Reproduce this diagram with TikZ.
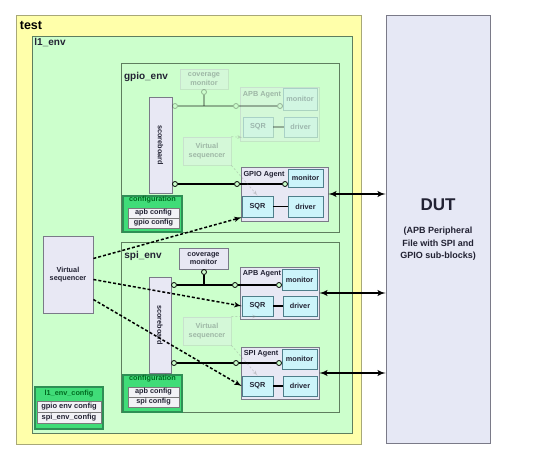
\documentclass[tikz,border=0pt]{standalone}
\usepackage{fontspec}
\setmainfont{Liberation Sans}
\usetikzlibrary{arrows,positioning}

\definecolor{testfill}{HTML}{FFFFAA}
\definecolor{testline}{HTML}{A8A878}
\definecolor{envfill}{HTML}{CCFFCC}
\definecolor{envline}{HTML}{5E7E5E}
\definecolor{boxfill}{HTML}{E8E8F4}
\definecolor{boxline}{HTML}{7A7A88}
\definecolor{unitfill}{HTML}{CCF4FA}
\definecolor{unitline}{HTML}{4E7E8A}
\definecolor{cfgfill}{HTML}{40DC78}
\definecolor{cfgline}{HTML}{2F8F55}
\definecolor{cfgtext}{HTML}{006A20}
\definecolor{itemfill}{HTML}{F2F2F6}
\definecolor{itemline}{HTML}{7A7A7A}
\definecolor{dutfill}{HTML}{E6E8F5}
\definecolor{ink}{HTML}{222233}

\begin{document}
\begin{tikzpicture}[>=latex',x=1pt,y=-1pt]
 \tikzstyle{frame}=[draw, rectangle, inner sep=0pt]
 \tikzstyle{small}=[font=\fontsize{7.3}{8.3}\selectfont\bfseries, text=ink]
 \tikzstyle{big}=[font=\fontsize{10}{12}\selectfont\bfseries, text=ink]
 \tikzstyle{envbox}=[frame, draw=envline, fill=envfill, thick]
 \tikzstyle{grey}=[frame, draw=boxline, fill=boxfill, thick, small, align=center]
 \tikzstyle{unit}=[frame, draw=unitline, fill=unitfill, thick, small]
 \tikzstyle{cfg}=[frame, draw=cfgline, fill=cfgfill, very thick]
 \tikzstyle{cfgitem}=[frame, draw=itemline, fill=itemfill, small, minimum width=51, minimum height=10]
 \tikzstyle{port}=[circle, draw=black, thick, fill=envfill, inner sep=0pt, minimum size=5]
 \tikzstyle{bus}=[draw=black, line width=1.2pt]
 \tikzstyle{vlink}=[->, line width=1.5pt, dash pattern=on 3pt off 2pt]
 \tikzstyle{flink}=[->, gray, thick, dash pattern=on 2pt off 2pt]
 \tikzstyle{dutlink}=[<->, line width=1.8pt]

 \useasboundingbox (0,0) rectangle (553,450);
 \fill [white] (0,0) rectangle (553,450);

 % test / l1_env
 \node (test) [frame, draw=testline, fill=testfill, thick, minimum width=345, minimum height=429] at (188.5,229.5) {};
 \node (testlbl) [font=\fontsize{12.5}{14}\selectfont\bfseries] at (31,25) {test};
 \node (l1env) [envbox, minimum width=320, minimum height=397] at (192,234.5) {};
 \node (l1lbl) [big] at (50,42) {l1\_env};

 % DUT
 \node (dut) [frame, draw=boxline, fill=dutfill, thick, minimum width=104, minimum height=428] at (438,229) {};
 \node (dutname) [font=\fontsize{17}{20}\selectfont\bfseries, text=ink] at (438,205) {DUT};
 \node (dutnote) [font=\fontsize{9}{12.5}\selectfont\bfseries, text=ink, align=center] at (438,244)
   {(APB Peripheral\\File with SPI and\\GPIO sub-blocks)};

 % virtual sequencer + l1 config
 \node (vseq) [grey, minimum width=50, minimum height=77] at (68,274.5) {Virtual\\sequencer};
 \node (l1cfg) [cfg, minimum width=68, minimum height=42] at (69,408) {};
 \node (l1cfglbl) [small, text=cfgtext] at (69,394) {l1\_env\_config};
 \node (l1gpio) [cfgitem, minimum width=64, minimum height=11, font=\fontsize{7.5}{8}\selectfont\bfseries] at (69,406.5) {gpio env config};
 \node (l1spi) [cfgitem, minimum width=64, minimum height=11, font=\fontsize{7.5}{8}\selectfont\bfseries] at (69,418) {spi\_env\_config};

 % gpio_env
 \node (genv) [envbox, minimum width=218, minimum height=169] at (230,147.5) {};
 \node (genvlbl) [big] at (146,77) {gpio\_env};
 \node (gsb) [grey, minimum width=23, minimum height=96] at (160.5,145) {};
 \node (gsblbl) [small, rotate=-90] at (160.5,145) {scoreboard};
 \begin{scope}[opacity=0.3]
  \node (gcov) [grey, minimum width=48, minimum height=20, draw=boxline!60] at (204,79) {coverage\\monitor};
  \node (fapb) [grey, minimum width=79, minimum height=54, draw=boxline!60] at (279.5,114) {};
  \node (fapblbl) [small] at (262,95) {APB Agent};
  \node (fmon) [unit, minimum width=34, minimum height=22] at (300,99) {monitor};
  \node (fsqr) [unit, minimum width=30, minimum height=20] at (258,127) {SQR};
  \node (fdrv) [unit, minimum width=33, minimum height=20] at (300.5,127) {driver};
  \node (gvseq) [grey, minimum width=48, minimum height=28, draw=boxline!60] at (207,151) {Virtual\\sequencer};
  \node (fp1) [port] at (175,106) {};
  \node (fp2) [port] at (236,106) {};
  \node (fp3) [port] at (280,106) {};
  \node (fp4) [port] at (204,92) {};
  \draw [bus] (fp1) -- (fp2) -- (fp3);
  \draw [bus] (fp4) -- (204,106);
  \draw [bus] (fsqr) -- (fdrv);
  \draw [flink] (gvseq.north east) -- (fsqr.south west);
 \end{scope}
 \node (gpioag) [grey, minimum width=87, minimum height=54] at (284.5,194) {};
 \node (gpiolbl) [small] at (264,175) {GPIO Agent};
 \node (gmon) [unit, minimum width=35, minimum height=18] at (305.5,178) {monitor};
 \node (gsqr) [unit, minimum width=31, minimum height=21] at (257.5,206.5) {SQR};
 \node (gdrv) [unit, minimum width=35, minimum height=21] at (305.5,206.5) {driver};
 \draw [bus] (gsqr) -- (gdrv);
 \node (gp1) [port] at (175,184) {};
 \node (gp2) [port] at (237,184) {};
 \node (gp3) [port] at (285,184) {};
 \draw [bus] (gp1) -- (gp2) -- (gp3);
 \draw [flink, opacity=0.3] (gvseq.south east) -- (gsqr.north);
 \node (gcfg) [cfg, minimum width=59, minimum height=36] at (152.5,214) {};
 \node (gcfglbl) [small, text=cfgtext] at (152.5,200) {configuration};
 \node (gapbc) [cfgitem] at (153.5,213) {apb config};
 \node (ggpioc) [cfgitem] at (153.5,223) {gpio config};

 % spi_env
 \node (senv) [envbox, minimum width=218, minimum height=170] at (230,327) {};
 \node (senvlbl) [big] at (143,256) {spi\_env};
 \node (scov) [grey, minimum width=49, minimum height=21] at (203.5,258.5) {coverage\\monitor};
 \node (ssb) [grey, minimum width=22, minimum height=96] at (160,325) {};
 \node (ssblbl) [small, rotate=-90] at (160,325) {scoreboard};
 \begin{scope}[opacity=0.3]
  \node (svseq) [grey, minimum width=48, minimum height=28, draw=boxline!60] at (207,331) {Virtual\\sequencer};
 \end{scope}
 \node (apbag) [grey, minimum width=79, minimum height=52] at (279.5,293) {};
 \node (apblbl) [small] at (262,274) {APB Agent};
 \node (amon) [unit, minimum width=35, minimum height=21] at (299.5,279.5) {monitor};
 \node (asqr) [unit, minimum width=31, minimum height=20] at (257.5,306) {SQR};
 \node (adrv) [unit, minimum width=34, minimum height=20] at (300,306) {driver};
 \draw [bus] (asqr) -- (adrv);
 \node (spiag) [grey, minimum width=78, minimum height=52] at (280,373) {};
 \node (spilbl) [small] at (261,354) {SPI Agent};
 \node (smon) [unit, minimum width=35, minimum height=20] at (299.5,359) {monitor};
 \node (ssqr) [unit, minimum width=31, minimum height=20] at (257.5,386) {SQR};
 \node (sdrv) [unit, minimum width=34, minimum height=20] at (300,386) {driver};
 \draw [bus] (ssqr) -- (sdrv);
 \node (sp1) [port] at (174,285) {};
 \node (sp2) [port] at (235,285) {};
 \node (sp3) [port] at (279,285) {};
 \node (sp4) [port] at (204,272) {};
 \draw [bus] (sp1) -- (sp2) -- (sp3);
 \draw [bus] (sp4) -- (204,285);
 \node (sp5) [port] at (174,363) {};
 \node (sp6) [port] at (236,363) {};
 \node (sp7) [port] at (279,363) {};
 \draw [bus] (sp5) -- (sp6) -- (sp7);
 \draw [flink, opacity=0.3] (svseq.north east) -- (asqr.south);
 \draw [flink, opacity=0.3] (svseq.south east) -- (ssqr.north);
 \node (scfg) [cfg, minimum width=59, minimum height=37] at (152.5,393.5) {};
 \node (scfglbl) [small, text=cfgtext] at (152.5,379) {configuration};
 \node (sapbc) [cfgitem] at (153.5,392) {apb config};
 \node (sspic) [cfgitem] at (153.5,402) {spi config};

 % virtual sequencer links
 \draw [vlink] ([yshift=16pt]vseq.east) -- (gsqr.south west);
 \draw [vlink] ([yshift=-5pt]vseq.east) -- (asqr.west);
 \draw [vlink] ([yshift=-25pt]vseq.east) -- (ssqr.west);

 % DUT links
 \draw [dutlink] (gpioag.east) -- (gpioag.east -| dut.west);
 \draw [dutlink] (apbag.east) -- (apbag.east -| dut.west);
 \draw [dutlink] (spiag.east) -- (spiag.east -| dut.west);
\end{tikzpicture}
\end{document}
